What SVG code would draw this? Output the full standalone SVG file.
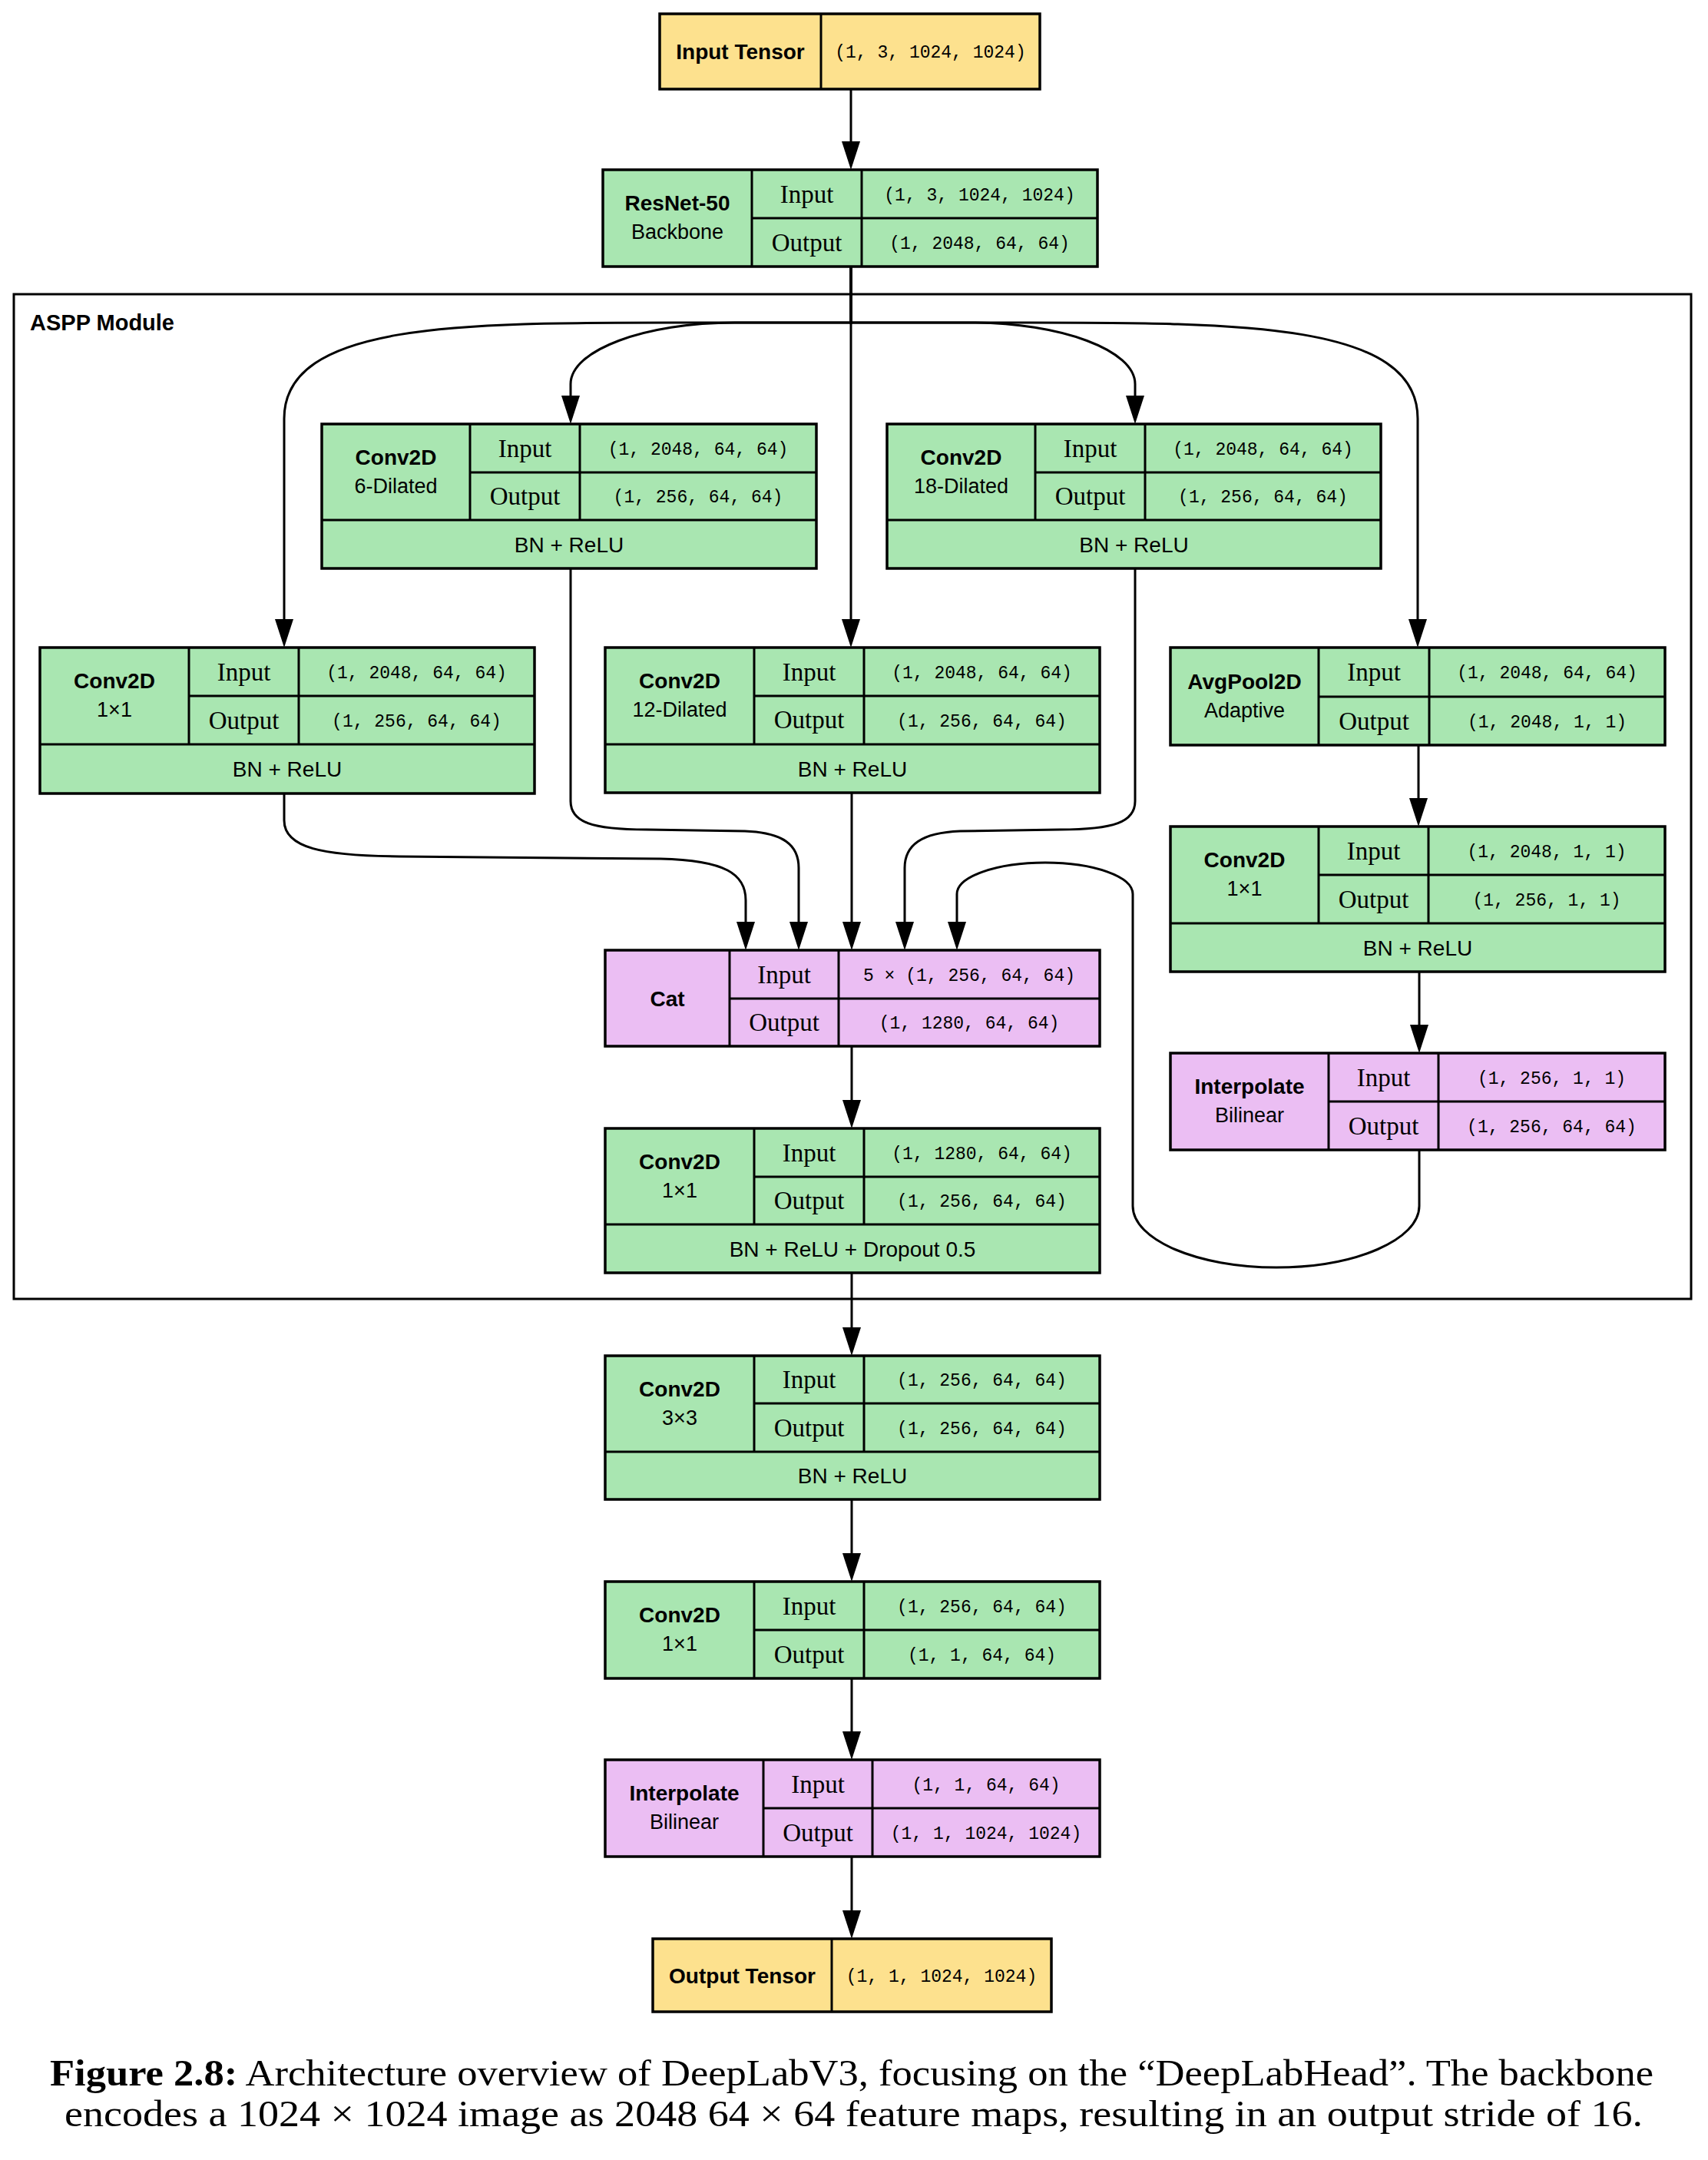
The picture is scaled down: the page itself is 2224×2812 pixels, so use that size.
<svg xmlns="http://www.w3.org/2000/svg" width="2224" height="2812" viewBox="0 0 2224 2812">
<defs>
<style>
.bg{fill:#ffffff}
.g{fill:#a9e6b1;stroke:#000;stroke-width:3.5}
.p{fill:#ebbef3;stroke:#000;stroke-width:3.5}
.y{fill:#fde18e;stroke:#000;stroke-width:3.5}
.d{stroke:#000;stroke-width:3;fill:none}
.cl{fill:none;stroke:#000;stroke-width:3}
.e{fill:none;stroke:#000;stroke-width:3;marker-end:url(#ah)}
text{text-anchor:middle;fill:#000}
.t{font-family:"Liberation Sans",Arial,sans-serif;font-weight:bold;font-size:28px}
.s{font-family:"Liberation Sans",Arial,sans-serif;font-size:27px}
.io{font-family:"Liberation Serif","Times New Roman",serif;font-size:33px}
.m{font-family:"Liberation Mono","Courier New",monospace;font-size:23px}
.bn{font-family:"Liberation Sans",Arial,sans-serif;font-size:28px}
.cap{font-family:"Liberation Serif","Times New Roman",serif;font-size:48px;text-anchor:start}
</style>
<marker id="ah" markerUnits="userSpaceOnUse" markerWidth="40" markerHeight="26" refX="0" refY="12" orient="auto" viewBox="0 0 40 26">
<path d="M0,0 L37,12 L0,24 Z" fill="#000"/>
</marker>
</defs>
<rect class="bg" x="0" y="0" width="2224" height="2812"/>

<g id="aspp_cluster">
<rect class="cl" x="18" y="383" width="2184" height="1308"/>
<text class="t" x="39" y="430" style="text-anchor:start;font-size:29px">ASPP Module</text>
</g>

<g id="connectors">
<path class="e" d="M1108,116 V184"/>
<path class="e" d="M1108,347 V420 H880 C600,420 370,420 370,545 V806"/>
<path class="e" d="M1108,347 V420 H957 C839,420 743,456 743,500 V515"/>
<path class="e" d="M1108,347 V806"/>
<path class="e" d="M1108,347 V420 H1264 C1382,420 1478,456 1478,500 V515"/>
<path class="e" d="M1108,347 V420 H1336 C1616,420 1846,420 1846,545 V806"/>
<path class="e" d="M1847,970 V1039"/>
<path class="e" d="M1848,1265 V1334"/>
<path class="e" d="M370,1033 V1068 C370,1104 420,1114 520,1115 L860,1118 C945,1120 971,1138 971,1172 V1200"/>
<path class="e" d="M743,740 V1043 C743,1070 770,1080 842,1080 L970,1082 C1020,1084 1040,1100 1040,1130 V1200"/>
<path class="e" d="M1109,1032 V1200"/>
<path class="e" d="M1478,740 V1043 C1478,1070 1451,1080 1380,1080 L1250,1082 C1200,1084 1178,1100 1178,1130 V1200"/>
<path class="e" d="M1848,1497 V1570 C1848,1614 1765,1650 1662,1650 C1559,1650 1475,1614 1475,1570 V1164 C1475,1141 1424,1123 1361,1123 C1298,1123 1246,1141 1246,1164 V1200"/>
<path class="e" d="M1109,1362 V1432"/>
<path class="e" d="M1109,1657 V1728"/>
<path class="e" d="M1109,1952 V2022"/>
<path class="e" d="M1109,2185 V2254"/>
<path class="e" d="M1109,2417 V2487"/>
</g>

<g id="input_tensor">
<rect class="y" x="859" y="18" width="495" height="98"/>
<line class="d" x1="1069" y1="18" x2="1069" y2="116"/>
<text class="t" x="964" y="77">Input Tensor</text>
<text class="m" x="1211.5" y="75">(1, 3, 1024, 1024)</text>
</g>

<g id="resnet50">
<rect class="g" x="785" y="221" width="644" height="126"/>
<path class="d" d="M979,221 V347 M1122,221 V347 M979,284 H1429"/>
<text class="t" x="882" y="274">ResNet-50</text>
<text class="s" x="882" y="311">Backbone</text>
<text class="io" x="1050.5" y="263.5">Input</text>
<text class="io" x="1050.5" y="326.5">Output</text>
<text class="m" x="1275.5" y="260.5">(1, 3, 1024, 1024)</text>
<text class="m" x="1275.5" y="323.5">(1, 2048, 64, 64)</text>
</g>

<g id="conv_6_dilated">
<rect class="g" x="419" y="552" width="644" height="188"/>
<path class="d" d="M612,552 V677 M755,552 V677 M612,615 H1063 M419,677 H1063"/>
<text class="t" x="515.5" y="604.5">Conv2D</text>
<text class="s" x="515.5" y="641.5">6-Dilated</text>
<text class="io" x="683.5" y="594.5">Input</text>
<text class="io" x="683.5" y="657">Output</text>
<text class="m" x="909" y="591.5">(1, 2048, 64, 64)</text>
<text class="m" x="909" y="654">(1, 256, 64, 64)</text>
<text class="bn" x="741" y="718.5">BN + ReLU</text>
</g>

<g id="conv_18_dilated">
<rect class="g" x="1155" y="552" width="643" height="188"/>
<path class="d" d="M1348,552 V677 M1491,552 V677 M1348,615 H1798 M1155,677 H1798"/>
<text class="t" x="1251.5" y="604.5">Conv2D</text>
<text class="s" x="1251.5" y="641.5">18-Dilated</text>
<text class="io" x="1419.5" y="594.5">Input</text>
<text class="io" x="1419.5" y="657">Output</text>
<text class="m" x="1644.5" y="591.5">(1, 2048, 64, 64)</text>
<text class="m" x="1644.5" y="654">(1, 256, 64, 64)</text>
<text class="bn" x="1476.5" y="718.5">BN + ReLU</text>
</g>

<g id="conv_1x1_a">
<rect class="g" x="52" y="843" width="644" height="190"/>
<path class="d" d="M246,843 V969 M389,843 V969 M246,906 H696 M52,969 H696"/>
<text class="t" x="149" y="896">Conv2D</text>
<text class="s" x="149" y="933">1×1</text>
<text class="io" x="317.5" y="885.5">Input</text>
<text class="io" x="317.5" y="948.5">Output</text>
<text class="m" x="542.5" y="882.5">(1, 2048, 64, 64)</text>
<text class="m" x="542.5" y="945.5">(1, 256, 64, 64)</text>
<text class="bn" x="374" y="1011">BN + ReLU</text>
</g>

<g id="conv_12_dilated">
<rect class="g" x="788" y="843" width="644" height="189"/>
<path class="d" d="M982,843 V969 M1125,843 V969 M982,906 H1432 M788,969 H1432"/>
<text class="t" x="885" y="896">Conv2D</text>
<text class="s" x="885" y="933">12-Dilated</text>
<text class="io" x="1053.5" y="885.5">Input</text>
<text class="io" x="1053.5" y="948">Output</text>
<text class="m" x="1278.5" y="882.5">(1, 2048, 64, 64)</text>
<text class="m" x="1278.5" y="945.5">(1, 256, 64, 64)</text>
<text class="bn" x="1110" y="1010.5">BN + ReLU</text>
</g>

<g id="avgpool">
<rect class="g" x="1524" y="843" width="644" height="127"/>
<path class="d" d="M1717,843 V970 M1861,843 V970 M1717,907 H2168"/>
<text class="t" x="1620.5" y="896.5">AvgPool2D</text>
<text class="s" x="1620.5" y="933.5">Adaptive</text>
<text class="io" x="1789" y="886">Input</text>
<text class="io" x="1789" y="949.5">Output</text>
<text class="m" x="2014.5" y="883">(1, 2048, 64, 64)</text>
<text class="m" x="2014.5" y="946.5">(1, 2048, 1, 1)</text>
</g>

<g id="conv_1x1_b">
<rect class="g" x="1524" y="1076" width="644" height="189"/>
<path class="d" d="M1717,1076 V1202 M1860,1076 V1202 M1717,1139 H2168 M1524,1202 H2168"/>
<text class="t" x="1620.5" y="1129">Conv2D</text>
<text class="s" x="1620.5" y="1166">1×1</text>
<text class="io" x="1788.5" y="1118.5">Input</text>
<text class="io" x="1788.5" y="1181.5">Output</text>
<text class="m" x="2014" y="1115.5">(1, 2048, 1, 1)</text>
<text class="m" x="2014" y="1178.5">(1, 256, 1, 1)</text>
<text class="bn" x="1846" y="1243.5">BN + ReLU</text>
</g>

<g id="interpolate_a">
<rect class="p" x="1524" y="1371" width="644" height="126"/>
<path class="d" d="M1730,1371 V1497 M1873,1371 V1497 M1730,1434 H2168"/>
<text class="t" x="1627" y="1424">Interpolate</text>
<text class="s" x="1627" y="1461">Bilinear</text>
<text class="io" x="1801.5" y="1413.5">Input</text>
<text class="io" x="1801.5" y="1476.5">Output</text>
<text class="m" x="2020.5" y="1410.5">(1, 256, 1, 1)</text>
<text class="m" x="2020.5" y="1473.5">(1, 256, 64, 64)</text>
</g>

<g id="cat">
<rect class="p" x="788" y="1237" width="644" height="125"/>
<path class="d" d="M950,1237 V1362 M1092,1237 V1362 M950,1300 H1432"/>
<text class="t" x="869" y="1309.5">Cat</text>
<text class="io" x="1021" y="1279.5">Input</text>
<text class="io" x="1021" y="1342">Output</text>
<text class="m" x="1262" y="1276.5">5 × (1, 256, 64, 64)</text>
<text class="m" x="1262" y="1339">(1, 1280, 64, 64)</text>
</g>

<g id="conv_1x1_c">
<rect class="g" x="788" y="1469" width="644" height="188"/>
<path class="d" d="M982,1469 V1594 M1125,1469 V1594 M982,1532 H1432 M788,1594 H1432"/>
<text class="t" x="885" y="1521.5">Conv2D</text>
<text class="s" x="885" y="1558.5">1×1</text>
<text class="io" x="1053.5" y="1511.5">Input</text>
<text class="io" x="1053.5" y="1574">Output</text>
<text class="m" x="1278.5" y="1508.5">(1, 1280, 64, 64)</text>
<text class="m" x="1278.5" y="1571">(1, 256, 64, 64)</text>
<text class="bn" x="1110" y="1635.5">BN + ReLU + Dropout 0.5</text>
</g>

<g id="conv_3x3">
<rect class="g" x="788" y="1765" width="644" height="187"/>
<path class="d" d="M982,1765 V1890 M1125,1765 V1890 M982,1827 H1432 M788,1890 H1432"/>
<text class="t" x="885" y="1817.5">Conv2D</text>
<text class="s" x="885" y="1854.5">3×3</text>
<text class="io" x="1053.5" y="1807">Input</text>
<text class="io" x="1053.5" y="1869.5">Output</text>
<text class="m" x="1278.5" y="1804">(1, 256, 64, 64)</text>
<text class="m" x="1278.5" y="1866.5">(1, 256, 64, 64)</text>
<text class="bn" x="1110" y="1931">BN + ReLU</text>
</g>

<g id="conv_1x1_d">
<rect class="g" x="788" y="2059" width="644" height="126"/>
<path class="d" d="M982,2059 V2185 M1125,2059 V2185 M982,2122 H1432"/>
<text class="t" x="885" y="2112">Conv2D</text>
<text class="s" x="885" y="2149">1×1</text>
<text class="io" x="1053.5" y="2101.5">Input</text>
<text class="io" x="1053.5" y="2164.5">Output</text>
<text class="m" x="1278.5" y="2098.5">(1, 256, 64, 64)</text>
<text class="m" x="1278.5" y="2161.5">(1, 1, 64, 64)</text>
</g>

<g id="interpolate_b">
<rect class="p" x="788" y="2291" width="644" height="126"/>
<path class="d" d="M994,2291 V2417 M1136,2291 V2417 M994,2354 H1432"/>
<text class="t" x="891" y="2344">Interpolate</text>
<text class="s" x="891" y="2381">Bilinear</text>
<text class="io" x="1065" y="2333.5">Input</text>
<text class="io" x="1065" y="2396.5">Output</text>
<text class="m" x="1284" y="2330.5">(1, 1, 64, 64)</text>
<text class="m" x="1284" y="2393.5">(1, 1, 1024, 1024)</text>
</g>

<g id="output_tensor">
<rect class="y" x="850" y="2524" width="519" height="95"/>
<line class="d" x1="1083" y1="2524" x2="1083" y2="2619"/>
<text class="t" x="966.5" y="2581.5">Output Tensor</text>
<text class="m" x="1226" y="2579.5">(1, 1, 1024, 1024)</text>
</g>

<g id="caption">
<text class="cap" x="65" y="2715" textLength="2088" lengthAdjust="spacingAndGlyphs"><tspan font-weight="bold">Figure 2.8:</tspan> Architecture overview of DeepLabV3, focusing on the “DeepLabHead”. The backbone</text>
<text class="cap" x="84" y="2768" textLength="2055" lengthAdjust="spacingAndGlyphs">encodes a 1024 × 1024 image as 2048 64 × 64 feature maps, resulting in an output stride of 16.</text>
</g>
</svg>
